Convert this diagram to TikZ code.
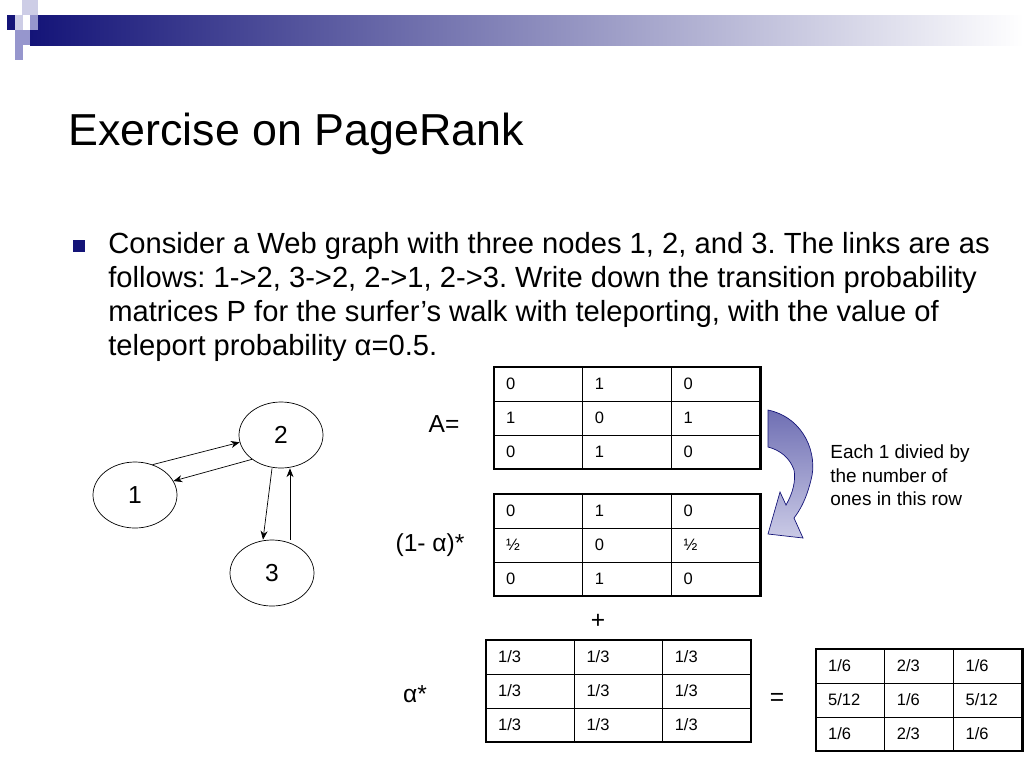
\documentclass[tikz,border=0pt]{standalone}
\usepackage{fontspec}
\setmainfont{Liberation Sans}
\usetikzlibrary{positioning,shapes.geometric,arrows.meta}
\definecolor{navy}{RGB}{20,20,120}
\definecolor{lav}{RGB}{150,150,205}
\definecolor{pale}{RGB}{205,205,230}
\newlength{\pxu}\setlength{\pxu}{0.02cm}
\frenchspacing
\tikzset{
  vert/.style={draw,ellipse,minimum width=84\pxu,minimum height=66\pxu,font=\fontsize{14}{16}\selectfont},
  link/.style={-{Stealth[length=5pt,width=4pt]},thin},
  lbl/.style={font=\fontsize{14}{16}\selectfont},
  cell/.style={anchor=west,font=\fontsize{9.4}{11}\selectfont}
}
% grid: x0, y0, column width, entries
\newcommand{\probgrid}[4]{%
  \foreach \i in {1,2} {
    \draw[thin] (#1+\i*#3,#2) -- (#1+\i*#3,#2+102);
    \draw[thin] (#1,#2+\i*34) -- (#1+3*#3,#2+\i*34);
  }
  \draw[line width=1.6pt] (#1,#2) rectangle (#1+3*#3,#2+102);
  \foreach \e [count=\k from 0] in {#4} {
    \pgfmathtruncatemacro{\r}{int(\k/3)}
    \pgfmathtruncatemacro{\c}{mod(\k,3)}
    \node[cell] at (#1+\c*#3+6,#2+17+\r*34) {\e};
  }}
\begin{document}
\begin{tikzpicture}[x=0.02cm,y=-0.02cm]
\useasboundingbox (0,0) rectangle (1024,768);
% header bar
\shade[left color=navy,right color=white] (30,15) rectangle (1024,45);
\fill[pale] (22,0) rectangle (38,15);
\fill[navy] (7,15) rectangle (15,30);
\fill[lav] (30,15) rectangle (38,30);
\fill[pale] (15,15) rectangle (23,30);
\fill[lav] (15,30) rectangle (30,45);
\fill[lav] (15,45) rectangle (23,60);
\node[anchor=base west,font=\fontsize{25.5}{30}\selectfont] (title) at (62,145) {Exercise on PageRank};
\fill[navy] (73,240) rectangle (85,252);
\node[anchor=north west,align=left,inner sep=0,font=\fontsize{16.6}{19.3}\selectfont] (task) at (108,232)
  {Consider a Web graph with three nodes 1, 2, and 3. The links are as\\
   follows: 1->2, 3->2, 2->1, 2->3. Write down the transition probability\\
   matrices P for the surfer’s walk with teleporting, with the value of\\
   teleport probability α=0.5.};
% graph
\node[vert] (n1) at (135,495) {1};
\node[vert] (n2) at (281,435) {2};
\node[vert] (n3) at (272,573) {3};
\draw[link] (n1.60) -- (n2.190);
\draw[link] (n2.220) -- (n1.20);
\draw[link] ([xshift=-9\pxu]n2.south) -- ([xshift=-9\pxu]n3.north);
\draw[link] ([xshift=18\pxu]n3.north) -- ([xshift=9\pxu]n2.south);
% matrices
\probgrid{494}{367}{88.7}{0,1,0,1,0,1,0,1,0}
\probgrid{494}{494}{88.7}{0,1,0,½,0,½,0,1,0}
\probgrid{486}{640}{88.3}{1/3,1/3,1/3,1/3,1/3,1/3,1/3,1/3,1/3}
\probgrid{816}{649}{68.7}{1/6,2/3,1/6,5/12,1/6,5/12,1/6,2/3,1/6}
\node[lbl] (la) at (444,424) {A=};
\node[lbl] (lb) at (430,545) {(1- α)*};
\node[lbl] (plus) at (598,621) {+};
\node[lbl] (lc) at (415,694) {α*};
\node[lbl] (eq) at (777,699) {=};
\node[anchor=north west,align=left,inner sep=0,font=\fontsize{10.8}{13.6}\selectfont] (note) at (830,444)
  {Each 1 divied by\\the number of\\ones in this row};
% curved arrow
\shade[top color=lav!70!navy,bottom color=lav!50!white,draw=navy,thin]
  (768,410) .. controls (805,418) and (818,455) .. (811,480)
  .. controls (806,500) and (800,510) .. (794,518)
  -- (803,538) -- (768,534) -- (780,492) -- (786,505)
  .. controls (793,493) and (796,480) .. (794,470)
  .. controls (790,458) and (780,450) .. (768,447) -- cycle;
\end{tikzpicture}
\end{document}
